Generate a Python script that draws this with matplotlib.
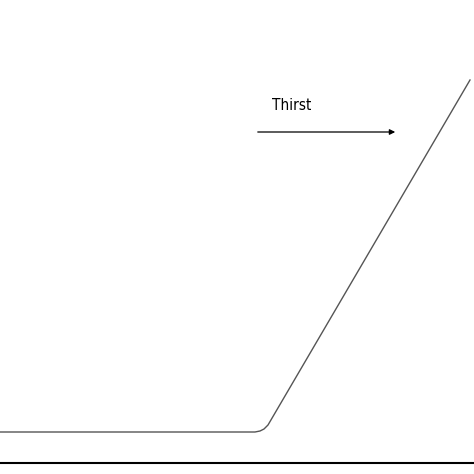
import matplotlib
matplotlib.use("Agg")
import matplotlib.pyplot as plt

# response curve (x: stimulus, y: response)
stim = [0, 255, 260, 264, 268, 470]
resp = [42, 42, 43, 45, 49, 394]

label = "Thirst"

fig = plt.figure(figsize=(4.74, 4.74), dpi=100)
ax = fig.add_axes([0, 0, 1, 1])
ax.set_xlim(0, 474)
ax.set_ylim(0, 474)
ax.axis("off")

ax.plot(stim, resp, color="#555555", linewidth=1.0)

# bottom baseline
ax.axhline(11, color="black", linewidth=1.5)

ax.annotate("", xy=(398, 342), xytext=(255, 342),
            arrowprops=dict(arrowstyle="-|>", color="black", lw=0.9,
                            mutation_scale=8))
ax.text(292, 369, label, ha="center", va="center", fontsize=11,
        family="Liberation Sans Narrow", stretch="condensed")

fig.savefig("out.png", dpi=100, facecolor="white")
